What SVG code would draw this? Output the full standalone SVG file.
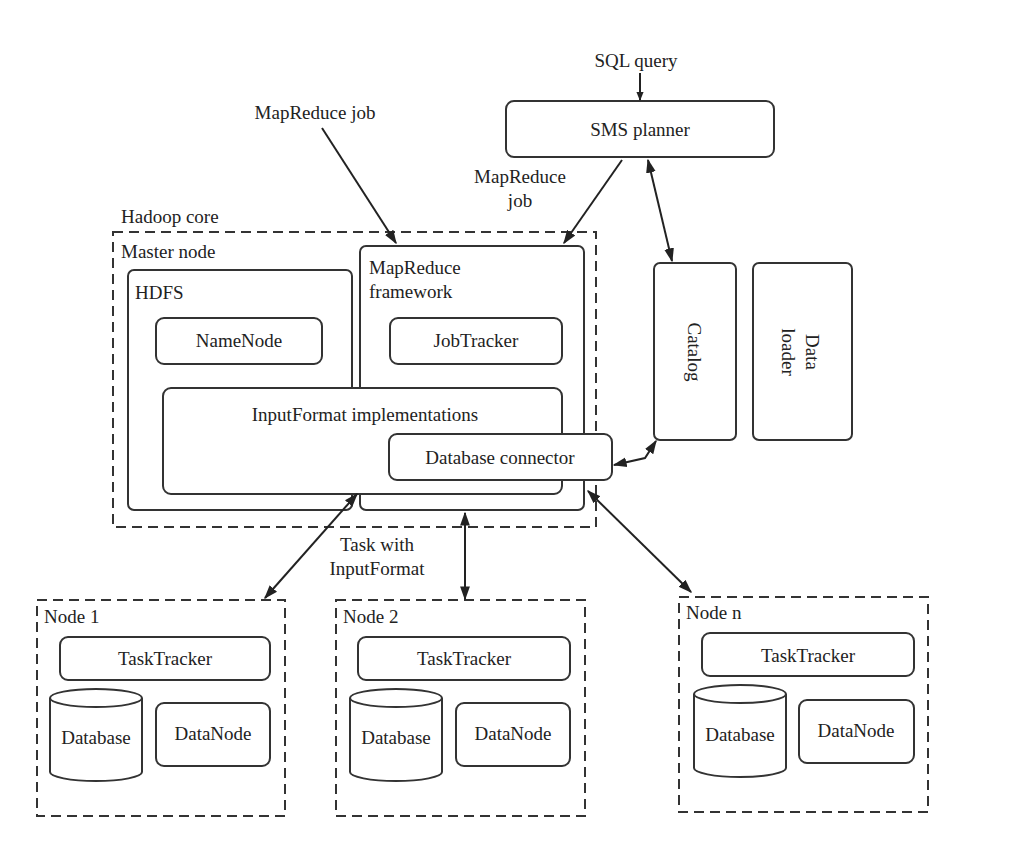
<svg xmlns="http://www.w3.org/2000/svg" width="1024" height="848" viewBox="0 0 1024 848">
<defs>
<marker id="ah" viewBox="0 0 10 10" refX="9" refY="5" markerWidth="9" markerHeight="9" orient="auto-start-reverse" markerUnits="userSpaceOnUse"><path d="M0,1 L10,5 L0,9 z" fill="#222"/></marker>
<marker id="ah2" viewBox="0 0 10 10" refX="9" refY="5" markerWidth="14" markerHeight="14" orient="auto-start-reverse" markerUnits="userSpaceOnUse"><path d="M0,1.5 L10,5 L0,8.5 z" fill="#222"/></marker>
<style>
text{font-family:"Liberation Serif","DejaVu Serif",serif;font-size:19px;fill:#222}
.c{text-anchor:middle}
.b{fill:#fff;stroke:#333;stroke-width:2}
.d{fill:none;stroke:#333;stroke-width:2;stroke-dasharray:10,6}
.l{fill:none;stroke:#222;stroke-width:2}
</style>
</defs>
<rect width="1024" height="848" fill="#fff"/>
<g id="hadoop-core"><rect class="d" x="113" y="232" width="483" height="295"/><text x="121" y="223">Hadoop core</text><text x="121" y="258">Master node</text></g>
<g id="hdfs"><rect class="b" x="128" y="270" width="224" height="240" rx="6"/><text x="135" y="299">HDFS</text></g>
<g id="mapreduce-framework"><rect class="b" x="360" y="246" width="224" height="264" rx="6"/><text x="369" y="274">MapReduce</text><text x="369" y="298">framework</text></g>
<g id="namenode"><rect class="b" x="156" y="318" width="166" height="46" rx="8"/><text class="c" x="239" y="347">NameNode</text></g>
<g id="jobtracker"><rect class="b" x="390" y="318" width="172" height="46" rx="8"/><text class="c" x="476" y="347">JobTracker</text></g>
<g id="inputformat"><rect class="b" x="163" y="388" width="399" height="106" rx="8"/><text class="c" x="365" y="421">InputFormat implementations</text></g>
<g id="db-connector"><rect class="b" x="389" y="434" width="223" height="46" rx="8"/><text class="c" x="500" y="464">Database connector</text></g>
<g id="sms-planner"><rect class="b" x="506" y="101" width="268" height="56" rx="8"/><text class="c" x="640" y="136">SMS planner</text></g>
<g id="catalog"><rect class="b" x="654" y="263" width="82" height="177" rx="6"/><text class="c" transform="translate(688,352) rotate(90)">Catalog</text></g>
<g id="data-loader"><rect class="b" x="753" y="263" width="99" height="177" rx="6"/><text class="c" transform="translate(806,352) rotate(90)">Data</text><text class="c" transform="translate(782,352) rotate(90)">loader</text></g>
<g id="node1"><rect class="d" x="37" y="600" width="248" height="216"/><text x="44" y="623">Node 1</text>
<rect class="b" x="60" y="637" width="210" height="43" rx="8"/><text class="c" x="165" y="665">TaskTracker</text>
<path class="b" d="M50,698 v74 a46,9 0 0 0 92,0 v-74 a46,9 0 0 0 -92,0 a46,9 0 0 0 92,0"/><text class="c" x="96" y="744">Database</text>
<rect class="b" x="156" y="703" width="114" height="63" rx="8"/><text class="c" x="213" y="740">DataNode</text></g>
<g id="node2"><rect class="d" x="336" y="600" width="249" height="216"/><text x="343" y="623">Node 2</text>
<rect class="b" x="358" y="637" width="212" height="43" rx="8"/><text class="c" x="464" y="665">TaskTracker</text>
<path class="b" d="M350,698 v74 a46,9 0 0 0 92,0 v-74 a46,9 0 0 0 -92,0 a46,9 0 0 0 92,0"/><text class="c" x="396" y="744">Database</text>
<rect class="b" x="456" y="703" width="114" height="63" rx="8"/><text class="c" x="513" y="740">DataNode</text></g>
<g id="noden"><rect class="d" x="679" y="597" width="249" height="215"/><text x="686" y="619">Node n</text>
<rect class="b" x="702" y="633" width="212" height="43" rx="8"/><text class="c" x="808" y="662">TaskTracker</text>
<path class="b" d="M694,694 v74 a46,9 0 0 0 92,0 v-74 a46,9 0 0 0 -92,0 a46,9 0 0 0 92,0"/><text class="c" x="740" y="741">Database</text>
<rect class="b" x="799" y="700" width="115" height="63" rx="8"/><text class="c" x="856" y="737">DataNode</text></g>
<g id="connectors">
<line class="l" x1="640" y1="73" x2="640" y2="100" marker-end="url(#ah)"/>
<line class="l" x1="322" y1="128" x2="396" y2="243" marker-end="url(#ah2)"/>
<line class="l" x1="622" y1="160" x2="564" y2="243" marker-end="url(#ah2)"/>
<line class="l" x1="648" y1="160" x2="672" y2="261" marker-start="url(#ah2)" marker-end="url(#ah2)"/>
<polyline class="l" points="614,465 645,458 656,441" marker-start="url(#ah2)" marker-end="url(#ah2)"/>
<line class="l" x1="357" y1="494" x2="265" y2="598" marker-start="url(#ah2)" marker-end="url(#ah2)"/>
<line class="l" x1="465" y1="513" x2="465" y2="599" marker-start="url(#ah2)" marker-end="url(#ah2)"/>
<line class="l" x1="588" y1="491" x2="691" y2="592" marker-start="url(#ah2)" marker-end="url(#ah2)"/>
<text class="c" x="636" y="67">SQL query</text>
<text class="c" x="315" y="119">MapReduce job</text>
<text class="c" x="520" y="183">MapReduce</text>
<text class="c" x="520" y="207">job</text>
<text class="c" x="377" y="551">Task with</text>
<text class="c" x="377" y="575">InputFormat</text>
</g>
</svg>
